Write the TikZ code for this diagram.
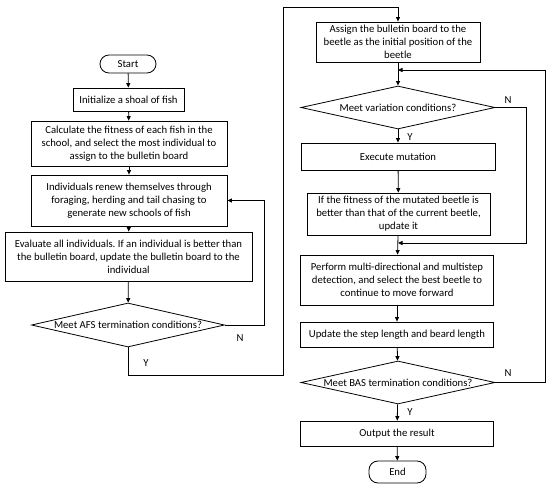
\documentclass[tikz,border=0pt]{standalone}
\usepackage{fontspec}
\setmainfont{Carlito}
\usetikzlibrary{arrows.meta,shapes.geometric}
\frenchspacing
\begin{document}
\begin{tikzpicture}[x=1pt,y=-1pt,
  every node/.style={font=\fontsize{10.7}{13}\selectfont},
  box/.style={draw, line width=0.8pt, align=center, inner sep=1pt},
  term/.style={draw, line width=0.8pt, rounded corners=9pt, inner sep=0pt},
  dec/.style={draw, diamond, line width=0.8pt, inner sep=0pt, aspect=4},
  arr/.style={line width=0.8pt, -{Triangle[length=4.5pt,width=4pt]}},
  lbl/.style={inner sep=0pt}]
\useasboundingbox (0,0) rectangle (550,487);
% left column
\node[term, minimum width=56pt, minimum height=18pt] (start) at (128,64) {Start};
\node[box, minimum width=111pt, minimum height=23pt] (init) at (128.5,99.5) {Initialize a shoal of fish};
\node[box, minimum width=196pt, minimum height=45pt] (calc) at (129,143.5) {Calculate the fitness of each fish in the\\ school, and select the most individual to\\ assign to the bulletin board};
\node[box, minimum width=196pt, minimum height=51pt] (indiv) at (129,200.5) {Individuals renew themselves through\\ foraging, herding and tail chasing to\\ generate new schools of fish};
\node[box, minimum width=247pt, minimum height=49pt] (eval) at (128.5,256.5) {Evaluate all individuals. If an individual is better than\\ the bulletin board, update the bulletin board to the\\ individual};
\node[dec, minimum width=193pt, minimum height=44pt] (afs) at (128,325) {\makebox[0pt]{Meet AFS termination conditions?}};
% right column
\node[box, minimum width=164pt, minimum height=40pt] (assign) at (398,42) {Assign the bulletin board to the\\ beetle as the initial position of the\\ beetle};
\node[dec, minimum width=194pt, minimum height=43pt] (var) at (398,107.5) {\makebox[0pt]{Meet variation conditions?}};
\node[box, minimum width=194pt, minimum height=27pt] (exec) at (398,156.5) {Execute mutation};
\node[box, minimum width=183pt, minimum height=42pt] (fit) at (398.5,214) {If the fitness of the mutated beetle is\\ better than that of the current beetle,\\ update it};
\node[box, minimum width=193pt, minimum height=50pt] (perf) at (397,280) {Perform multi-directional and multistep\\ detection, and select the best beetle to\\ continue to move forward};
\node[box, minimum width=193pt, minimum height=25pt] (upd) at (397,334.5) {Update the step length and beard length};
\node[dec, minimum width=194pt, minimum height=43pt] (bas) at (398,382.5) {\makebox[0pt]{Meet BAS termination conditions?}};
\node[box, minimum width=193pt, minimum height=25pt] (out) at (397,433.5) {Output the result};
\node[term, minimum width=57pt, minimum height=22pt] (end) at (397.5,472) {End};
% coordinates
\coordinate (afsR) at (264,325);
\coordinate (afsD) at (128,375);
\coordinate (lB) at (283,375);
\coordinate (lT) at (283,7);
\coordinate (j1) at (398,70);
\coordinate (varR) at (526,107.5);
\coordinate (varD) at (526,243);
\coordinate (j2) at (398,243);
\coordinate (basR) at (545,382.5);
\coordinate (basU) at (545,70);
% connectors left
\draw[arr] (start) -- (init);
\draw[arr] (init) -- (calc);
\draw[arr] (calc) -- (indiv);
\draw[arr] (indiv) -- (eval);
\draw[arr] (eval) -- (afs);
\draw[arr] (afs.east) -- (afsR) |- (indiv.east);
\draw[arr] (afs.south) -- (afsD) -- (lB) -- (lT) -| (assign.north);
% connectors right
\draw[arr] (assign) -- (var);
\draw[arr] (var) -- (exec);
\draw[arr] (exec) -- (fit);
\draw[arr] (fit) -- (perf);
\draw[arr] (perf) -- (upd);
\draw[arr] (upd) -- (bas);
\draw[arr] (bas) -- (out);
\draw[arr] (out) -- (end);
\draw[arr] (var.east) -- (varR) -- (varD) -- (j2);
\draw[arr] (bas.east) -- (basR) -- (basU) -- (j1);
% labels
\node[lbl] (n1) at (240,338) {N};
\node[lbl] (y1) at (146,363) {Y};
\node[lbl] (n2) at (508,100) {N};
\node[lbl] (y2) at (410,137) {Y};
\node[lbl] (n3) at (508,373) {N};
\node[lbl] (y3) at (410,412) {Y};
\end{tikzpicture}
\end{document}
